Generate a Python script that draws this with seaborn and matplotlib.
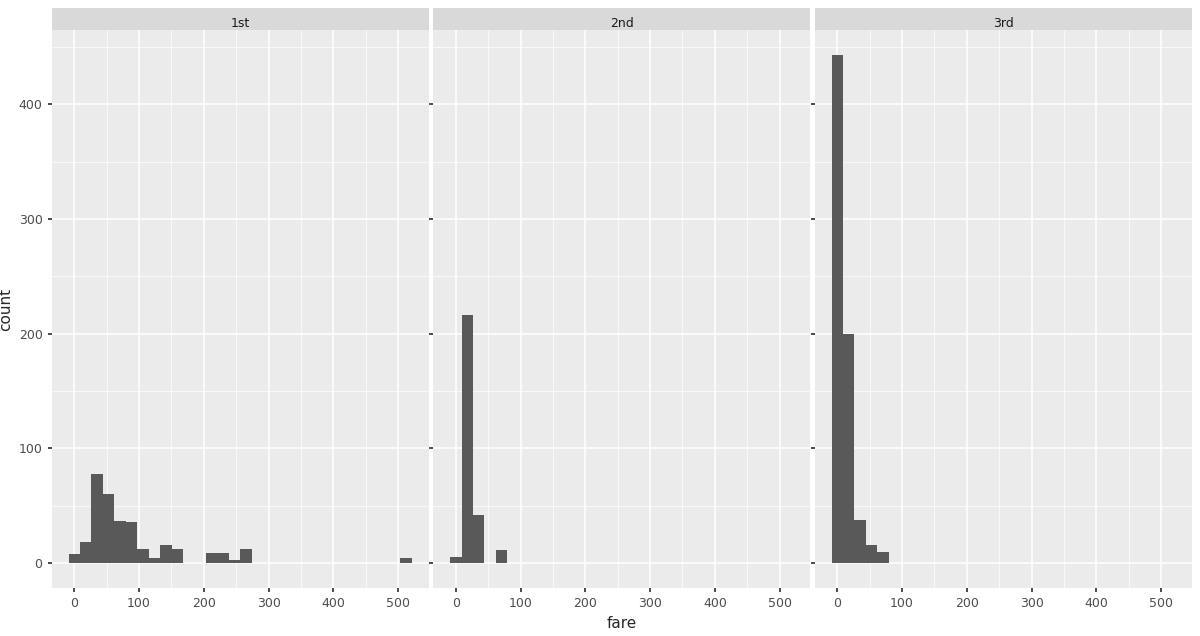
import numpy as np
import pandas as pd
import matplotlib
matplotlib.use("Agg")
import matplotlib.pyplot as plt
import seaborn as sns

classes = ["1st", "2nd", "3rd"]
binwidth = 512.3292 / 29
centers = [i * binwidth for i in range(30)]
counts_1st = [8, 18, 78, 60, 37, 36, 12, 4, 16, 12, 0, 0, 9, 9, 3, 12, 0, 0, 0, 0, 0, 0, 0, 0, 0, 0, 0, 0, 0, 4]
counts_2nd = [5, 216, 42, 0, 11] + [0] * 25
counts_3rd = [443, 200, 38, 16, 10] + [0] * 25
counts = [counts_1st, counts_2nd, counts_3rd]

sns.set_theme(style="darkgrid")
plt.rcParams['font.family'] = ['DejaVu Sans']
edges = [c - binwidth / 2 for c in centers] + [centers[-1] + binwidth / 2]

fig, axes = plt.subplots(1, 3, figsize=(12, 6.36), dpi=100, sharey=True)
fig.subplots_adjust(left=0.043, right=0.993, top=0.953, bottom=0.075, wspace=0.012)
for ax, cl, cnt in zip(axes, classes, counts):
    df = pd.DataFrame({"fare": centers, "n": cnt})
    sns.histplot(data=df, x="fare", weights="n", bins=edges, ax=ax,
                 color="#595959", edgecolor="none", alpha=1, linewidth=0)
    ax.set_facecolor("#EBEBEB")
    ax.set_xlim(-35, 547)
    ax.set_ylim(-22, 465)
    ax.set_xticks([0, 100, 200, 300, 400, 500])
    ax.set_xticks([50, 150, 250, 350, 450], minor=True)
    ax.set_yticks([0, 100, 200, 300, 400])
    ax.set_yticks([50, 150, 250, 350, 450], minor=True)
    ax.grid(which="major", color="white", linewidth=1.1)
    ax.grid(which="minor", color="white", linewidth=0.5)
    ax.set_axisbelow(True)
    for s in ax.spines.values():
        s.set_visible(False)
    ax.tick_params(axis="both", which="major", length=3, color="#333333",
                   labelsize=9, labelcolor="#4D4D4D", bottom=True, left=True)
    ax.tick_params(which="minor", length=0)
    ax.set_xlabel("")
    ax.set_ylabel("")
    ax.set_title(cl, fontsize=9, color="#1A1A1A", pad=0,
                 backgroundcolor="#D9D9D9")
    t = ax.title
    t.set_bbox(dict(facecolor="#D9D9D9", edgecolor="none", pad=0))
    ax.text(0.5, 1.0, cl, transform=ax.transAxes, ha="center", va="bottom",
            fontsize=9, color="#1A1A1A")
    ax.set_title("")
    from matplotlib.patches import Rectangle
    ax.add_patch(Rectangle((0, 1.0), 1, 0.04, transform=ax.transAxes,
                           facecolor="#D9D9D9", edgecolor="none", clip_on=False, zorder=0))
axes[0].set_ylabel("count", fontsize=11)
fig.text(0.518, 0.012, "fare", ha="center", fontsize=11)
fig.savefig("out.png")
